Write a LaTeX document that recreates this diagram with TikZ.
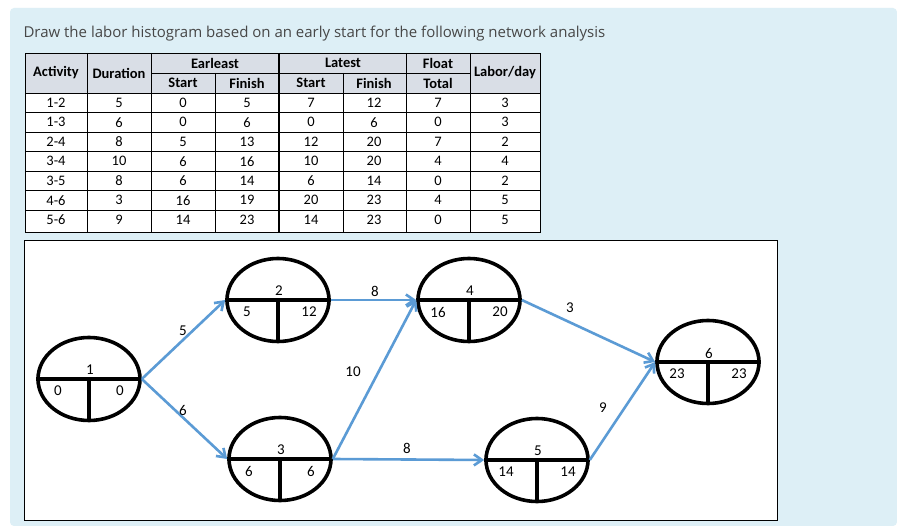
\documentclass[tikz,border=0pt]{standalone}
\usepackage{fontspec}
\setmainfont{Carlito}
\newfontfamily\titlefont{Open Sans}
\usetikzlibrary{shapes.geometric,arrows.meta}
\definecolor{bgc}{HTML}{DDEFF6}
\definecolor{hdr}{HTML}{D9DEE6}
\definecolor{arr}{HTML}{5B9BD5}
\begin{document}
\begin{tikzpicture}[x=1pt,y=-1pt,
  ev/.style={draw,line width=3.6pt,ellipse,minimum width=102pt,minimum height=83pt,inner sep=0},
  conn/.style={arr,line width=2.6pt,-{Straight Barb[length=8pt,width=11pt]}},
  lab/.style={font=\fontsize{15}{15}\selectfont},
  hb/.style={font=\bfseries\fontsize{14.5}{15}\selectfont},
  cell/.style={font=\fontsize{14.5}{15}\selectfont}]
\useasboundingbox (0,0) rectangle (897,526);
\fill[white] (0,0) rectangle (897,526);
\fill[bgc,rounded corners=4pt] (10,8) rectangle (897,526);
\node[anchor=west,text=black!72,font=\titlefont\fontsize{15}{16}\selectfont] (title) at (20,34) {Draw the labor histogram based on an early start for the following network analysis};
% table
\fill[hdr] (25,53) rectangle (540,93);
\fill[white] (25,93) rectangle (540,232);
\draw[line width=0.8pt] (25,53) rectangle (540,232);
\foreach \x in {87,151,215,279,343,406,470} \draw[line width=0.8pt] (\x,73) -- (\x,232);
\draw[line width=0.8pt] (87,53) -- (87,73) (470,53) -- (470,73);
\draw[line width=1.8pt] (279,53) -- (279,232);
\draw[line width=0.8pt] (151,53) -- (151,73) (406,53)--(406,73);
\draw[line width=0.8pt] (151,73) -- (470,73);
\foreach \y in {93,112.5,132,151.5,171,190.5,210} \draw[line width=0.8pt] (25,\y) -- (540,\y);
\node[hb] (hA) at (56,73) {Activity};
\node[hb] (hD) at (119,73) {Duration};
\node[hb] (hE) at (215,63) {Earleast};
\node[hb] (hL) at (343,63) {Latest};
\node[hb] (hF) at (438,63) {Float};
\node[hb] (hLd) at (505,73) {Labor/day};
\node[hb] (h1) at (183,83) {Start};
\node[hb] (h2) at (247,83) {Finish};
\node[hb] (h3) at (311,83) {Start};
\node[hb] (h4) at (374,83) {Finish};
\node[hb] (h5) at (438,83) {Total};
\def\xs{{56,119,183,247,311,374,438,505}}
\foreach \r [count=\i from 0] in {
 {1-2,5,0,5,7,12,7,3},{1-3,6,0,6,0,6,0,3},{2-4,8,5,13,12,20,7,2},{3-4,10,6,16,10,20,4,4},
 {3-5,8,6,14,6,14,0,2},{4-6,3,16,19,20,23,4,5},{5-6,9,14,23,14,23,0,5}}{
  \foreach \v [count=\j from 0] in \r {
    \pgfmathsetmacro\xx{\xs[\j]}
    \node[cell] (c\i\j) at (\xx,{102.75+19.5*\i}) {\v};
  }
}
% diagram frame
\draw[fill=white,line width=0.8pt] (24,240) rectangle (777,520);
% events
\foreach \n/\x/\y/\a/\b in {1/89/379/0/0, 2/278/300/5/12, 3/280/459/6/6, 4/469/300/16/20, 5/537/460/14/14, 6/708/362/23/23}{
  \node[ev] (e\n) at (\x,\y) {};
  \draw[line width=3.4pt] (e\n.west) -- (e\n.east);
  \draw[line width=3.4pt] (e\n.center) -- (e\n.south);
  \node[lab] (id\n) at (\x+1,\y-9) {\n};
  \node[lab] (l\n) at (\x-31,\y+12) {\a};
  \node[lab] (r\n) at (\x+31,\y+12) {\b};
}
\draw[conn] (e1.east) -- (e2.west);
\draw[conn] (e1.east) -- (e3.west);
\draw[conn] (e2.east) -- (e4.west);
\draw[conn] (e3.east) -- (e4.west);
\draw[conn] (e3.east) -- (e5.west);
\draw[conn] (e4.east) -- (e6.west);
\draw[conn] (e5.east) -- (e6.west);
\node[lab] (a12) at (183,331) {5};
\node[lab] (a13) at (183,410) {6};
\node[lab] (a24) at (375,291) {8};
\node[lab] (a34) at (353,372) {10};
\node[lab] (a35) at (407,448) {8};
\node[lab] (a46) at (570,308) {3};
\node[lab] (a56) at (603,408) {9};
\end{tikzpicture}
\end{document}
